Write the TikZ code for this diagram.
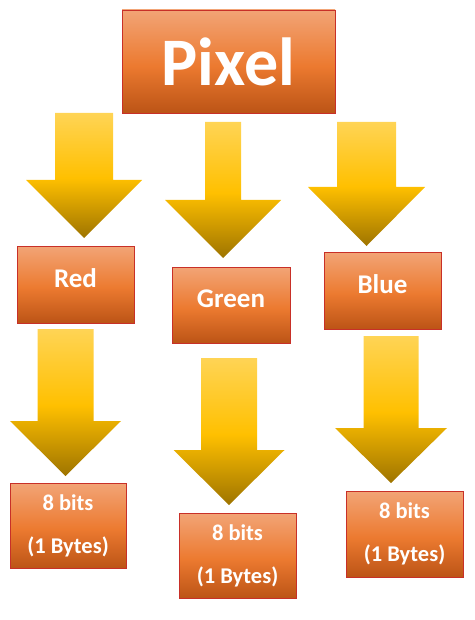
\documentclass[tikz,border=0pt]{standalone}
\usepackage{fontspec}
\setmainfont{Carlito}
\definecolor{boxline}{RGB}{200,48,40}
\pgfdeclareverticalshading{arrowshade}{100bp}{%
  color(0bp)=(rgb,255:red,158;green,116;blue,0);
  color(25bp)=(rgb,255:red,158;green,116;blue,0);
  color(49bp)=(rgb,255:red,255;green,192;blue,0);
  color(75bp)=(rgb,255:red,255;green,212;blue,85);
  color(100bp)=(rgb,255:red,255;green,212;blue,85)}
\pgfdeclareverticalshading{boxshade}{100bp}{%
  color(0bp)=(rgb,255:red,188;green,84;blue,22);
  color(25bp)=(rgb,255:red,188;green,84;blue,22);
  color(48bp)=(rgb,255:red,236;green,122;blue,48);
  color(75bp)=(rgb,255:red,242;green,164;blue,118);
  color(100bp)=(rgb,255:red,242;green,164;blue,118)}
\tikzset{
  obox/.style={draw=boxline, line width=0.9pt, shading=boxshade,
    text=white, font=\bfseries, inner sep=0pt, align=center},
  arrowfill/.style={shading=arrowshade, draw=none},
}
% cx, ytop, yhead, ytip, shaft half, head half, name (pixel coords, y downwards)
\newcommand{\blockarrowdown}[7]{%
  \shade[arrowfill] (#1-#5,-#2) coordinate (#7-top) -- (#1+#5,-#2) -- (#1+#5,-#3) -- (#1+#6,-#3)
    -- (#1,-#4) coordinate (#7-tip) -- (#1-#6,-#3) -- (#1-#5,-#3) -- cycle;}
\begin{document}
\begin{tikzpicture}[x=1pt,y=1pt]
\useasboundingbox (0,0) rectangle (474,-620);
% arrows
\blockarrowdown{84}{113}{180}{238}{29}{58}{ar1}
\blockarrowdown{223}{122}{200}{258}{18}{58}{ag1}
\blockarrowdown{366.5}{122}{187}{246}{29.5}{58.5}{ab1}
\blockarrowdown{65.5}{329}{421}{476}{28}{55.5}{ar2}
\blockarrowdown{229}{358}{450}{505}{28}{55.5}{ag2}
\blockarrowdown{391}{336}{428}{483}{27.5}{56}{ab2}
% boxes
\node[obox, minimum width=213pt, minimum height=103pt, font=\bfseries\fontsize{68}{68}\selectfont] (pixel) at (228.5,-61.5) {Pixel};
\node[obox, minimum width=117pt, minimum height=77pt, text depth=13pt, font=\bfseries\fontsize{27}{27}\selectfont] (red) at (75.5,-284.5) {Red};
\node[obox, minimum width=118pt, minimum height=76pt, text depth=13pt, font=\bfseries\fontsize{27}{27}\selectfont] (green) at (231,-305) {Green};
\node[obox, minimum width=117pt, minimum height=77pt, text depth=13pt, font=\bfseries\fontsize{27}{27}\selectfont] (blue) at (382.5,-290.5) {Blue};
\node[obox, minimum width=116pt, minimum height=85pt, font=\bfseries\fontsize{22.5}{43}\selectfont] (redb) at (68,-525.5) {8 bits\\(1 Bytes)};
\node[obox, minimum width=117pt, minimum height=85pt, font=\bfseries\fontsize{22.5}{43}\selectfont] (greenb) at (237.5,-555.5) {8 bits\\(1 Bytes)};
\node[obox, minimum width=117pt, minimum height=86pt, font=\bfseries\fontsize{22.5}{43}\selectfont] (blueb) at (404.5,-534) {8 bits\\(1 Bytes)};
\end{tikzpicture}
\end{document}
